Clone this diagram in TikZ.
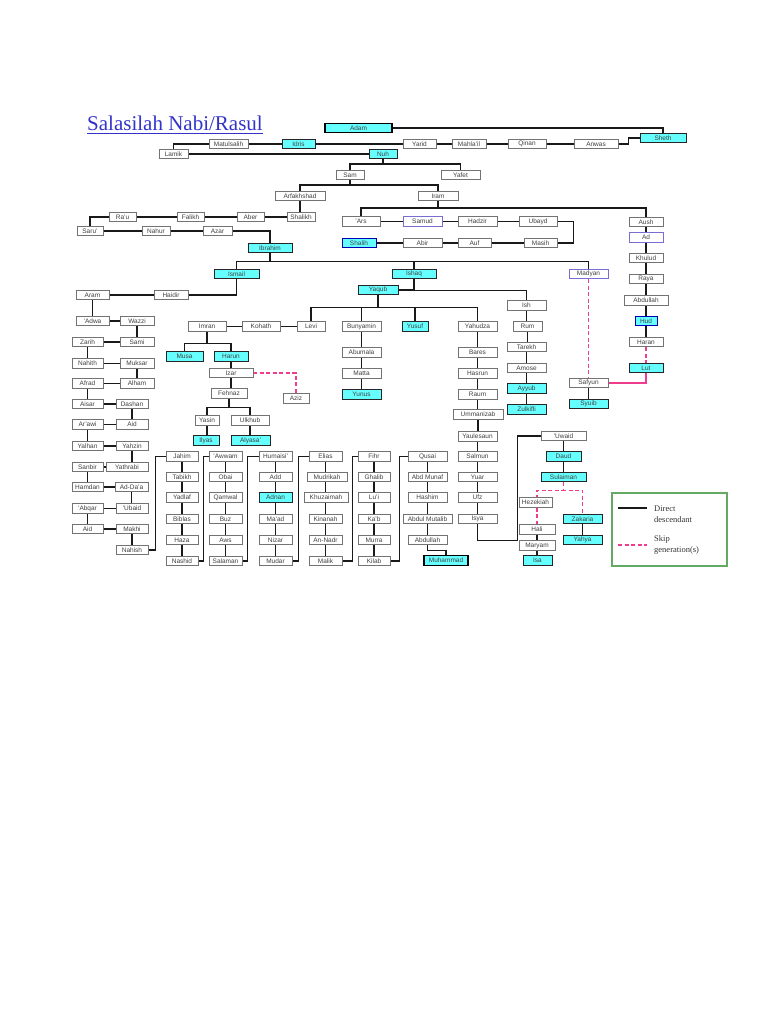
\documentclass[tikz,border=0pt]{standalone}
\usepackage{fontspec}
\setmainfont{Liberation Sans}
\newfontfamily\serifF{Liberation Serif}
\usetikzlibrary{backgrounds}
\definecolor{nabi}{RGB}{102,255,255}
\definecolor{pinkc}{RGB}{240,60,140}
\definecolor{lav}{RGB}{120,110,210}
\definecolor{titleblue}{RGB}{51,51,204}
\definecolor{legg}{RGB}{100,170,100}
\newcommand\vlink[2]{\draw[ln] (#1.south) -- (#1.south |- #2.north);}
\newcommand\hlink[2]{\draw[ln] (#1.west) -- (#2.east);}
\begin{document}
\begin{tikzpicture}[x=1pt,y=-1pt,
 bx/.style={draw=black!55, fill=white, line width=0.7pt, minimum height=9.5pt, inner sep=0pt, font=\fontsize{6.5}{6.5}\selectfont, text=black!75},
 nb/.style={bx, fill=nabi, draw=black!85},
 lv/.style={bx, draw=lav},
 bb/.style={nb, draw=blue!70!black},
 bw/.style={minimum width=#1pt},
 ln/.style={line width=1.2pt, black!90},
 dl/.style={line width=1.2pt, pinkc, dash pattern=on 4pt off 2.5pt},
 pl/.style={line width=1.2pt, pinkc},
 legtext/.style={anchor=west, font=\serifF\fontsize{8.5}{11}\selectfont, align=left, inner sep=0pt, text=black!80}
]
\useasboundingbox (0,0) rectangle (768,1024);

% title
\node[anchor=base west, font=\serifF\fontsize{21}{21}\selectfont, text=titleblue, inner sep=0pt] (title) at (87,131) {Salasilah Nabi/Rasul};
\draw[titleblue, line width=0.9pt] ([yshift=-2.5pt]title.base west) -- ([yshift=-2.5pt]title.base east);

% Adam to Nuh
\node[nb,bw=67,line width=1.2pt,draw=black] (adam) at (358.5,128) {Adam};
\node[nb,bw=46] (sheth) at (663,138) {Sheth};
\node[bx,bw=44] (anwas) at (596,144) {Anwas};
\node[bx,bw=38] (qinan) at (527,144) {Qinan};
\node[bx,bw=34] (mahlail) at (469,144) {Mahla'il};
\node[bx,bw=33] (yarid) at (419.5,144) {Yarid};
\node[nb,bw=33] (idris) at (298.5,144) {Idris};
\node[bx,bw=39] (matul) at (228.5,144) {Matulsalih};
\node[bx,bw=29] (lamik) at (173.5,154) {Lamik};
\node[nb,bw=28] (nuh) at (383,154) {Nuh};
\node[bx,bw=28] (sam) at (350,175) {Sam};
\node[bx,bw=39] (yafet) at (460.5,175) {Yafet};
\node[bx,bw=50] (arfak) at (300,196) {Arfakhshad};
\node[bx,bw=40] (iram) at (438,196) {Iram};
\node[bx,bw=28] (shalikh) at (301,217) {Shalikh};
\node[bx,bw=27] (aber) at (250.5,217) {Aber};
\node[bx,bw=27] (falikh) at (190.5,217) {Falikh};
\node[bx,bw=27] (rau) at (122.5,217) {Ra'u};
\node[bx,bw=26] (saru) at (90,231) {Saru'};
\node[bx,bw=28] (nahur) at (156,231) {Nahur};
\node[bx,bw=29] (azar) at (217.5,231) {Azar};
\node[nb,bw=44] (ibrahim) at (270,248) {Ibrahim};
\node[nb,bw=45] (ismail) at (236.5,274) {Ismail};
\node[nb,bw=44] (ishaq) at (414,274) {Ishaq};
\node[lv,bw=39] (madyan) at (588.5,274) {Madyan};

% Iram line
\node[bx,bw=38] (ars) at (361,221.5) {'Ars};
\node[lv,bw=39] (samud) at (422.5,221.5) {Samud};
\node[bx,bw=39] (hadzir) at (477.5,221.5) {Hadzir};
\node[bx,bw=38] (ubayd) at (538,221.5) {Ubayd};
\node[bx,bw=33] (masih) at (540.5,243) {Masih};
\node[bx,bw=33] (auf) at (474.5,243) {Auf};
\node[bx,bw=39] (abir) at (422.5,243) {Abir};
\node[bb,bw=34] (shalih) at (359,243) {Shalih};
\node[bx,bw=34] (aush) at (646,222) {Aush};
\node[lv,bw=34] (ad) at (646,237.5) {Ad};
\node[bx,bw=34] (khulud) at (646,258) {Khulud};
\node[bx,bw=34] (raya) at (646,279) {Raya};
\node[bx,bw=44] (abdullahb) at (646,300.5) {Abdullah};
\node[bb,bw=22] (hud) at (646,321) {Hud};
\node[bx,bw=34] (haran) at (646,342) {Haran};
\node[nb,bw=34] (lut) at (646,368) {Lut};

% Ismail line (left)
\node[bx,bw=34] (haidir) at (171,295) {Haidir};
\node[bx,bw=33] (aram) at (92.5,295) {Aram};
\node[bx,bw=33] (adwa) at (92.5,321) {'Adwa};
\node[bx,bw=34] (wazzi) at (137,321) {Wazzi};
\node[bx,bw=34] (sami) at (137,342) {Sami};
\node[bx,bw=31] (zarih) at (87.5,342) {Zarih};
\node[bx,bw=31] (nahith) at (87.5,363.5) {Nahith};
\node[bx,bw=34] (muksar) at (137,363.5) {Muksar};
\node[bx,bw=34] (alham) at (137,383.5) {Alham};
\node[bx,bw=31] (afrad) at (87.5,383.5) {Afrad};
\node[bx,bw=31] (aisar) at (87.5,404) {Aisar};
\node[bx,bw=32] (dashan) at (132,404) {Dashan};
\node[bx,bw=32] (aida) at (132,424.5) {Aid};
\node[bx,bw=31] (arawi) at (87.5,424.5) {Ar'awi};
\node[bx,bw=31] (yalhan) at (87.5,446) {Yalhan};
\node[bx,bw=32] (yahzin) at (132,446) {Yahzin};
\node[bx,bw=31] (sanbir) at (87.5,467) {Sanbir};
\node[bx,bw=42] (yathrabi) at (127,467) {Yathrabi};
\node[bx,bw=31] (hamdan) at (87.5,487) {Hamdan};
\node[bx,bw=33] (adda) at (131.5,487) {Ad-Da'a};
\node[bx,bw=31] (abqar) at (87.5,508.5) {'Abqar};
\node[bx,bw=32] (ubaid) at (132,508.5) {'Ubaid};
\node[bx,bw=31] (aidb) at (87.5,529) {Aid};
\node[bx,bw=32] (makhi) at (132,529) {Makhi};
\node[bx,bw=32] (nahish) at (132,550) {Nahish};

% columns
\node[bx,bw=32] (jahim) at (182,456.5) {Jahim};
\node[bx,bw=32] (tabikh) at (182,477) {Tabikh};
\node[bx,bw=32] (yadlaf) at (182,497.5) {Yadlaf};
\node[bx,bw=32] (biblas) at (182,519) {Biblas};
\node[bx,bw=32] (haza) at (182,540) {Haza};
\node[bx,bw=32] (nashid) at (182,561) {Nashid};
\node[bx,bw=33] (awwam) at (225.5,456.5) {'Awwam};
\node[bx,bw=33] (obai) at (225.5,477) {Obai};
\node[bx,bw=33] (qamwal) at (225.5,497.5) {Qamwal};
\node[bx,bw=33] (buz) at (225.5,519) {Buz};
\node[bx,bw=33] (aws) at (225.5,540) {Aws};
\node[bx,bw=33] (salaman) at (225.5,561) {Salaman};
\node[bx,bw=33] (humaisi) at (275.5,456.5) {Humaisi'};
\node[bx,bw=33] (add) at (275.5,477) {Add};
\node[nb,bw=33] (adnan) at (275.5,497.5) {Adnan};
\node[bx,bw=33] (maad) at (275.5,519) {Ma'ad};
\node[bx,bw=33] (nizar) at (275.5,540) {Nizar};
\node[bx,bw=33] (mudar) at (275.5,561) {Mudar};
\node[bx,bw=33] (elias) at (325.5,456.5) {Elias};
\node[bx,bw=40] (mudrikah) at (327,477) {Mudrikah};
\node[bx,bw=44] (khuzaimah) at (326,497.5) {Khuzaimah};
\node[bx,bw=33] (kinanah) at (325.5,519) {Kinanah};
\node[bx,bw=33] (annadr) at (325.5,540) {An-Nadr};
\node[bx,bw=33] (malik) at (325.5,561) {Malik};
\node[bx,bw=32] (fihr) at (374,456.5) {Fihr};
\node[bx,bw=32] (ghalib) at (374,477) {Ghalib};
\node[bx,bw=32] (luai) at (374,497.5) {Lu'i};
\node[bx,bw=32] (kaab) at (374,519) {Ka'b};
\node[bx,bw=32] (murra) at (374,540) {Murra};
\node[bx,bw=32] (kilab) at (374,561) {Kilab};
\node[bx,bw=39] (qusai) at (427.5,456.5) {Qusai};
\node[bx,bw=39] (abdmunaf) at (427.5,477) {Abd Munaf};
\node[bx,bw=39] (hashim) at (427.5,497.5) {Hashim};
\node[bx,bw=49] (abdmutalib) at (427.5,519) {Abdul Mutalib};
\node[bx,bw=39] (abdullah) at (427.5,540) {Abdullah};
\node[nb,bw=44,line width=1.1pt,draw=black] (muhammad) at (446,560.5) {Muhammad};

% Ishaq line
\node[nb,bw=40] (yaqub) at (378,290) {Yaqub};
\node[bx,bw=39] (ish) at (526.5,305.5) {Ish};
\node[bx,bw=28] (levi) at (311,326.5) {Levi};
\node[bx,bw=39] (bunyamin) at (361.5,326.5) {Bunyamin};
\node[nb,bw=26] (yusuf) at (415,326.5) {Yusuf};
\node[bx,bw=39] (yahudza) at (477.5,326.5) {Yahudza};
\node[bx,bw=38] (kohath) at (261,326.5) {Kohath};
\node[bx,bw=38] (imran) at (207,326.5) {Imran};
\node[nb,bw=37] (musa) at (184.5,356.5) {Musa};
\node[nb,bw=34] (harun) at (231,356.5) {Harun};
\node[bx,bw=44] (izar) at (231,373) {Izar};
\node[bx,bw=26] (aziz) at (296,398.5) {Aziz};
\node[bx,bw=36] (fehnaz) at (229,393.5) {Fehnaz};
\node[bx,bw=24] (yasin) at (207,420.5) {Yasin};
\node[bx,bw=38] (ulkhub) at (250,420.5) {Ulkhub};
\node[nb,bw=26] (ilyas) at (206,440.5) {Ilyas};
\node[nb,bw=39] (alyasa) at (250.5,440.5) {Alyasa'};
\node[bx,bw=39] (abumala) at (361.5,352.5) {Abumala};
\node[bx,bw=39] (matta) at (361.5,373.5) {Matta};
\node[nb,bw=39] (yunus) at (361.5,394.5) {Yunus};
\node[bx,bw=39] (bares) at (477.5,352.5) {Bares};
\node[bx,bw=39] (hasrun) at (477.5,373.5) {Hasrun};
\node[bx,bw=39] (raum) at (477.5,394.5) {Raum};
\node[bx,bw=50] (ummanizab) at (478,414.5) {Ummanizab};
\node[bx,bw=39] (yaulesaun) at (477.5,436.5) {Yaulesaun};
\node[bx,bw=39] (salmun) at (477.5,456.5) {Salmun};
\node[bx,bw=39] (yuar) at (477.5,477) {Yuar};
\node[bx,bw=39] (ufz) at (477.5,497.5) {Ufz};
\node[bx,bw=39] (isya) at (477.5,519) {Isya};
\node[bx,bw=45] (uwaid) at (563.5,436) {'Uwaid};
\node[nb,bw=35] (daud) at (563.5,456.5) {Daud};
\node[nb,bw=45] (sulaiman) at (563.5,477) {Sulaiman};
\node[bx,bw=33] (hezekiah) at (535.5,502.5) {Hezekiah};
\node[nb,bw=39] (zakaria) at (582.5,519) {Zakaria};
\node[nb,bw=39] (yahya) at (582.5,540) {Yahya};
\node[bx,bw=36] (hali) at (537,529.5) {Hali};
\node[bx,bw=36] (maryam) at (537,545.5) {Maryam};
\node[nb,bw=29] (isa) at (537.5,560.5) {Isa};
\node[bx,bw=29] (rum) at (527.5,326.5) {Rum};
\node[bx,bw=39] (tarekh) at (526.5,347) {Tarekh};
\node[bx,bw=39] (amose) at (526.5,368) {Amose};
\node[nb,bw=39] (ayyub) at (526.5,388.5) {Ayyub};
\node[nb,bw=39] (zulkifli) at (526.5,409.5) {Zulkifli};
\node[bx,bw=39] (safyun) at (588.5,383) {Safyun};
\node[nb,bw=39] (syuib) at (588.5,404) {Syuib};

% legend
\node[draw=legg, line width=1.5pt, minimum width=115pt, minimum height=73pt, inner sep=0pt] (legend) at (669.5,529.5) {};
\coordinate (l1a) at (618,508); \coordinate (l1b) at (647,508);
\coordinate (l2a) at (618,545); \coordinate (l2b) at (647,545);
\node[legtext] (t1) at (654,514) {Direct\\descendant};
\node[legtext] (t2) at (654,545) {Skip\\generation(s)};
\draw[ln] (l1a) -- (l1b);
\draw[dl] (l2a) -- (l2b);

\begin{scope}[on background layer]
\draw[ln] (adam.east) -| (sheth.north);
\draw[ln] (sheth.west) -- ++(-11,0) |- (anwas.east);
\hlink{anwas}{qinan}
\hlink{qinan}{mahlail}
\hlink{mahlail}{yarid}
\hlink{yarid}{idris}
\hlink{idris}{matul}
\draw[ln] (matul.west) -| (lamik.north);
\draw[ln] (lamik.east) -- (nuh.west);
\draw[ln] (nuh.south) -- ++(0,5) -| (sam.north);
\draw[ln] (nuh.south) -- ++(0,5) -| (yafet.north);
\draw[ln] (sam.south) -- ++(0,5) -| (arfak.north);
\draw[ln] (sam.south) -- ++(0,5) -| (iram.north);
\vlink{arfak}{shalikh}
\hlink{shalikh}{aber}
\hlink{aber}{falikh}
\hlink{falikh}{rau}
\draw[ln] (rau.west) -| (saru.north);
\draw[ln] (saru.east) -- (nahur.west);
\draw[ln] (nahur.east) -- (azar.west);
\draw[ln] (azar.east) -| (ibrahim.north);
\draw[ln] (ibrahim.south) -- ++(0,8) -| (ismail.north);
\draw[ln] (ibrahim.south) -- ++(0,8) -| (ishaq.north);
\draw[ln] (ibrahim.south) -- ++(0,8) -| (madyan.north);
% Iram
\draw[ln] (iram.south) -- ++(0,7) -| (ars.north);
\draw[ln] (iram.south) -- ++(0,7) -| (aush.north);
\draw[ln] (ars.east) -- (samud.west);
\draw[ln] (samud.east) -- (hadzir.west);
\draw[ln] (hadzir.east) -- (ubayd.west);
\draw[ln] (ubayd.east) -- ++(16,0) |- (masih.east);
\hlink{masih}{auf}
\hlink{auf}{abir}
\hlink{abir}{shalih}
\vlink{aush}{ad}
\vlink{ad}{khulud}
\vlink{khulud}{raya}
\vlink{raya}{abdullahb}
\vlink{abdullahb}{hud}
\vlink{hud}{haran}
\draw[dl] (haran.south) -- (haran.south |- lut.north);
\draw[pl] (lut.south) |- (safyun.east);
\draw[dl] (madyan.south) -- (madyan.south |- safyun.north);
\vlink{safyun}{syuib}
% Ismail
\draw[ln] (ismail.south) |- (haidir.east);
\hlink{haidir}{aram}
\vlink{aram}{adwa}
\draw[ln] (adwa.east) -- (wazzi.west);
\vlink{wazzi}{sami}
\hlink{sami}{zarih}
\vlink{zarih}{nahith}
\draw[ln] (nahith.east) -- (muksar.west);
\vlink{muksar}{alham}
\hlink{alham}{afrad}
\vlink{afrad}{aisar}
\draw[ln] (aisar.east) -- (dashan.west);
\vlink{dashan}{aida}
\hlink{aida}{arawi}
\vlink{arawi}{yalhan}
\draw[ln] (yalhan.east) -- (yahzin.west);
\vlink{yahzin}{yathrabi}
\hlink{yathrabi}{sanbir}
\vlink{sanbir}{hamdan}
\draw[ln] (hamdan.east) -- (adda.west);
\vlink{adda}{ubaid}
\hlink{ubaid}{abqar}
\vlink{abqar}{aidb}
\draw[ln] (aidb.east) -- (makhi.west);
\vlink{makhi}{nahish}
\draw[ln] (nahish.east) -- ++(7,0) |- (jahim.west);
\vlink{jahim}{tabikh}
\vlink{tabikh}{yadlaf}
\vlink{yadlaf}{biblas}
\vlink{biblas}{haza}
\vlink{haza}{nashid}
\draw[ln] (nashid.east) -- ++(5,0) |- (awwam.west);
\vlink{awwam}{obai}
\vlink{obai}{qamwal}
\vlink{qamwal}{buz}
\vlink{buz}{aws}
\vlink{aws}{salaman}
\draw[ln] (salaman.east) -- ++(5,0) |- (humaisi.west);
\vlink{humaisi}{add}
\vlink{add}{adnan}
\vlink{adnan}{maad}
\vlink{maad}{nizar}
\vlink{nizar}{mudar}
\draw[ln] (mudar.east) -- ++(6,0) |- (elias.west);
\vlink{elias}{mudrikah}
\vlink{elias}{khuzaimah}
\vlink{elias}{kinanah}
\vlink{kinanah}{annadr}
\vlink{annadr}{malik}
\draw[ln] (malik.east) -- ++(10,0) |- (fihr.west);
\vlink{fihr}{ghalib}
\vlink{ghalib}{luai}
\vlink{luai}{kaab}
\vlink{kaab}{murra}
\vlink{murra}{kilab}
\draw[ln] (kilab.east) -- ++(9,0) |- (qusai.west);
\vlink{qusai}{abdmunaf}
\vlink{abdmunaf}{hashim}
\vlink{hashim}{abdmutalib}
\vlink{abdmutalib}{abdullah}
\draw[ln] (abdullah.south) -- ++(0,5) -| (muhammad.north);
% Ishaq
\draw[ln] (ishaq.south) |- (yaqub.east);
\draw[ln] (ishaq.south) -- ++(0,11) -| (ish.north);
\draw[ln] (yaqub.south) -- ++(0,12) -| (levi.north);
\draw[ln] (yaqub.south) -- ++(0,12) -| (bunyamin.north);
\draw[ln] (yaqub.south) -- ++(0,12) -| (yusuf.north);
\draw[ln] (yaqub.south) -- ++(0,12) -| (yahudza.north);
\hlink{levi}{kohath}
\hlink{kohath}{imran}
\draw[ln] (imran.south) -- ++(0,12) -| (musa.north);
\draw[ln] (imran.south) -- ++(0,12) -| (harun.north);
\vlink{harun}{izar}
\draw[dl] (izar.east) -| (aziz.north);
\vlink{izar}{fehnaz}
\draw[ln] (fehnaz.south) -- ++(0,9) -| (yasin.north);
\draw[ln] (fehnaz.south) -- ++(0,9) -| (ulkhub.north);
\vlink{yasin}{ilyas}
\vlink{ulkhub}{alyasa}
\vlink{bunyamin}{abumala}
\vlink{abumala}{matta}
\vlink{matta}{yunus}
\vlink{yahudza}{bares}
\vlink{bares}{hasrun}
\vlink{hasrun}{raum}
\vlink{raum}{ummanizab}
\vlink{ummanizab}{yaulesaun}
\vlink{yaulesaun}{salmun}
\vlink{salmun}{yuar}
\vlink{yuar}{ufz}
\vlink{ufz}{isya}
\draw[ln] (isya.south) -- ++(0,16) -| ([xshift=-23pt]uwaid.west) -- (uwaid.west);
\vlink{uwaid}{daud}
\vlink{daud}{sulaiman}
\draw[dl] (sulaiman.south) -- ++(0,8) -| (hali.north);
\draw[dl] (sulaiman.south) -- ++(0,8) -| (zakaria.north);
\vlink{zakaria}{yahya}
\vlink{hali}{maryam}
\vlink{maryam}{isa}
\vlink{ish}{rum}
\vlink{rum}{tarekh}
\vlink{tarekh}{amose}
\vlink{amose}{ayyub}
\vlink{ayyub}{zulkifli}
\end{scope}
\end{tikzpicture}
\end{document}
